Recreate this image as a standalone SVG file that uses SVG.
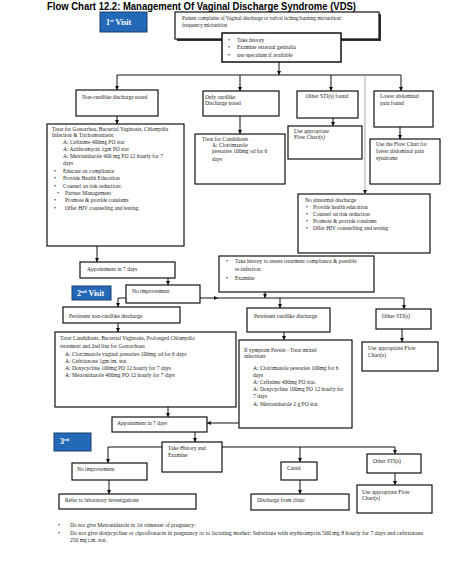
<svg xmlns="http://www.w3.org/2000/svg" width="474" height="577" viewBox="0 0 474 577">
<style>
.box{fill:#fff;stroke:#111;stroke-width:1.2}
.blue{fill:#2468b8;stroke:#1a3f70;stroke-width:1}
.t{font-family:"Liberation Serif",serif;font-size:5.5px;fill:#222}
.v{font-family:"Liberation Serif",serif;font-size:8px;font-weight:bold;fill:#fff}
.c{fill:none;stroke:#111;stroke-width:1}
.g{fill:none;stroke:#aaa;stroke-width:1}
</style>
<defs>
<marker id="ar" viewBox="0 0 6 6" refX="6" refY="3" markerWidth="4" markerHeight="4" markerUnits="userSpaceOnUse" orient="auto"><path d="M0,0 L6,3 L0,6 z" fill="#111"/></marker>
</defs>
<rect width="474" height="577" fill="#fff"/>
<text x="47" y="9.5" font-family="Liberation Sans,Arial,sans-serif" font-size="10.5" font-weight="bold" fill="#000" textLength="309" lengthAdjust="spacingAndGlyphs">Flow Chart 12.2: Management Of Vaginal Discharge Syndrome (VDS)</text>

<g id="connectors">
<path class="c" d="M279,39 V33" marker-end="url(#ar)"/>
<path class="c" d="M279,62 V75" marker-end="url(#ar)"/>
<path class="c" d="M117,75 H401"/>
<path class="c" d="M117,75 V90" marker-end="url(#ar)"/>
<path class="c" d="M240,75 V91" marker-end="url(#ar)"/>
<path class="c" d="M331,75 V91" marker-end="url(#ar)"/>
<path class="c" d="M401,75 V91" marker-end="url(#ar)"/>
<path class="g" d="M365,75 V194" marker-end="url(#ar)"/>
<path class="c" d="M117,116 V124" marker-end="url(#ar)"/>
<path class="c" d="M240,116 V134" marker-end="url(#ar)"/>
<path class="c" d="M333,118 V126" marker-end="url(#ar)"/>
<path class="c" d="M400,127 V139" marker-end="url(#ar)"/>
<path class="c" d="M97,246 V262" marker-end="url(#ar)"/>
<path class="c" d="M168,278 V285" marker-end="url(#ar)"/>
<path class="c" d="M126,298 H118 V307" marker-end="url(#ar)"/>
<path class="c" d="M200,298 H218" marker-end="url(#ar)"/>
<path class="c" d="M218,298 H404"/>
<path class="c" d="M265,292 V298" marker-end="url(#ar)"/>
<path class="c" d="M280,298 V308" marker-end="url(#ar)"/>
<path class="c" d="M404,298 V309" marker-end="url(#ar)"/>
<path class="c" d="M118,323 V332" marker-end="url(#ar)"/>
<path class="c" d="M284,332 V340" marker-end="url(#ar)"/>
<path class="c" d="M402,329 V342" marker-end="url(#ar)"/>
<path class="c" d="M168,407 V417" marker-end="url(#ar)"/>
<path class="c" d="M239,423 H207" marker-end="url(#ar)"/>
<path class="c" d="M195,432 V442" marker-end="url(#ar)"/>
<path class="c" d="M162,447 H108 V463" marker-end="url(#ar)"/>
<path class="c" d="M222,447 H395 V454" marker-end="url(#ar)"/>
<path class="c" d="M300,447 V462" marker-end="url(#ar)"/>
<path class="c" d="M109,480 V494" marker-end="url(#ar)"/>
<path class="c" d="M300,480 V494" marker-end="url(#ar)"/>
<path class="c" d="M395,473 V485" marker-end="url(#ar)"/>
</g>

<g id="visit1"><rect class="blue" x="100" y="12" width="47" height="20"/><text class="v" x="106" y="24.5">1<tspan font-size="5" dy="-3">st</tspan><tspan dy="3"> Visit</tspan></text></g>

<g id="patient"><rect x="177" y="14" width="204" height="27" fill="#333"/><rect class="box" x="175" y="12" width="204" height="27"/>
<text class="t" x="182" y="20" style="font-size:5.2px">Patient complains of Vaginal discharge or vulval itching/burning micturition/</text>
<text class="t" x="182" y="27" style="font-size:5.2px">frequency micturition</text></g>

<g id="takehistory"><rect class="box" x="222" y="33" width="119" height="29" style="stroke-width:1.5"/>
<text class="t" x="228" y="42">•</text><text class="t" x="237" y="42">Take history</text>
<text class="t" x="228" y="49">•</text><text class="t" x="237" y="49">Examine external genitalia</text>
<text class="t" x="228" y="57">•</text><text class="t" x="237" y="57">use speculum if available</text></g>

<g id="noncurd"><rect class="box" x="76" y="90" width="82" height="26"/><text class="t" x="82" y="99">Non-curdlike discharge noted</text></g>
<g id="curd"><rect class="box" x="203" y="91" width="76" height="25"/><text class="t" x="205" y="99">Only curdlike</text><text class="t" x="205" y="105">Discharge noted</text></g>
<g id="othersti1"><rect class="box" x="297" y="91" width="61" height="27"/><text class="t" x="306" y="98">Other STI(s) found</text></g>
<g id="lowerabd"><rect class="box" x="374" y="91" width="59" height="36"/><text class="t" x="380" y="98">Lower abdominal</text><text class="t" x="380" y="105">pain found</text></g>

<g id="treatgon"><rect class="box" x="47" y="124" width="137" height="122"/>
<text class="t" x="52" y="131">Treat for Gonorrhea, Bacterial Vaginosis, Chlamydia</text>
<text class="t" x="52" y="137">Infection &amp; Trichomoniasis:</text>
<text class="t" x="63" y="144">A: Cefixime 400mg PO stat</text>
<text class="t" x="63" y="151">A: Azithromycin 1gm PO stat</text>
<text class="t" x="63" y="158">A: Metronidazole 400 mg PO 12 hourly for 7</text>
<text class="t" x="63" y="165">days</text>
<text class="t" x="54" y="173">•</text><text class="t" x="63" y="173">Educate on compliance</text>
<text class="t" x="54" y="180">•</text><text class="t" x="63" y="180">Provide Health Education</text>
<text class="t" x="54" y="188">•</text><text class="t" x="63" y="188">Counsel on risk reduction:</text>
<text class="t" x="57" y="195">•</text><text class="t" x="65" y="195">Partner Management</text>
<text class="t" x="54" y="202">•</text><text class="t" x="65" y="202">Promote &amp; provide condoms</text>
<text class="t" x="54" y="210">•</text><text class="t" x="65" y="210">Offer HIV counseling and testing</text></g>

<g id="treatcand1"><rect class="box" x="195" y="134" width="90" height="50"/>
<text class="t" x="202" y="141">Treat for Candidiasis</text>
<text class="t" x="212" y="147">A: Clotrimazole</text>
<text class="t" x="212" y="153">pessaries 100mg od for 6</text>
<text class="t" x="212" y="161">days</text></g>

<g id="useflow1"><rect class="box" x="288" y="126" width="74" height="33"/><text class="t" x="294" y="133">Use appropriate</text><text class="t" x="294" y="139">Flow Chart(s)</text></g>
<g id="useflowlap"><rect class="box" x="370" y="139" width="70" height="45"/><text class="t" x="376" y="146">Use the Flow Chart for</text><text class="t" x="376" y="153">lower abdominal pain</text><text class="t" x="376" y="160">syndrome</text></g>

<g id="noabnormal"><rect class="box" x="298" y="194" width="132" height="59"/>
<text class="t" x="305" y="202">No abnormal discharge</text>
<text class="t" x="306" y="209">•</text><text class="t" x="313" y="209">Provide health education</text>
<text class="t" x="306" y="216">•</text><text class="t" x="313" y="216">Counsel on risk reduction</text>
<text class="t" x="306" y="223">•</text><text class="t" x="313" y="223">Promote &amp; provide condoms</text>
<text class="t" x="306" y="230">•</text><text class="t" x="313" y="230">Offer HIV counselling and testing</text></g>

<g id="appt1"><rect class="box" x="80" y="262" width="95" height="16"/><text class="t" x="87" y="271">Appointment in 7 days</text></g>

<g id="reassess"><rect class="box" x="219" y="256" width="155" height="36"/>
<text class="t" x="226" y="263">•</text><text class="t" x="235" y="263">Take history to assess treatment compliance &amp; possible</text>
<text class="t" x="235" y="271">re-infection</text>
<text class="t" x="226" y="280">•</text><text class="t" x="235" y="280">Examine</text></g>

<g id="visit2"><rect class="blue" x="72" y="286" width="39" height="14"/><text class="v" x="77" y="296">2<tspan font-size="5" dy="-3">nd</tspan><tspan dy="3"> Visit</tspan></text></g>
<g id="noimp1"><rect class="box" x="126" y="285" width="74" height="18"/><text class="t" x="132" y="293">No improvement</text></g>

<g id="persnon"><rect class="box" x="63" y="307" width="117" height="16"/><text class="t" x="69" y="318">Persistent non-curdlike discharge</text></g>
<g id="perscurd"><rect class="box" x="247" y="308" width="83" height="24"/><text class="t" x="254" y="318">Persistent curdlike discharge</text></g>
<g id="othersti2"><rect class="box" x="376" y="309" width="55" height="20"/><text class="t" x="382" y="318">Other STI(s)</text></g>

<g id="treatcand2"><rect class="box" x="55" y="332" width="181" height="75"/>
<text class="t" x="60" y="340">Treat Candidiasis, Bacterial Vaginosis, Prolonged Chlamydia</text>
<text class="t" x="60" y="348">treatment and 2nd line for Gonorrhoea</text>
<text class="t" x="65" y="356">A: Clotrimazole vaginal pessaries 100mg od for 6 days</text>
<text class="t" x="65" y="363">A: Ceftriaxone 1gm im. stat</text>
<text class="t" x="65" y="370">A: Doxycycline 100mg PO 12 hourly for 7 days</text>
<text class="t" x="65" y="377">A: Metronidazole 400mg PO 12 hourly for 7 days</text></g>

<g id="mixed"><rect class="box" x="239" y="340" width="113" height="88"/>
<text class="t" x="244" y="352">If symptom Persist - Treat mixed</text>
<text class="t" x="244" y="358">infections</text>
<text class="t" x="253" y="370">A: Clotrimazole pessaries 100mg for 6</text>
<text class="t" x="253" y="377">days</text>
<text class="t" x="253" y="384">A: Cefixime 400mg PO stat.</text>
<text class="t" x="253" y="391">A: Doxycycline 100mg PO 12 hourly for</text>
<text class="t" x="253" y="398">7 days</text>
<text class="t" x="253" y="406">A: Metronidazole 2 g PO stat</text></g>

<g id="useflow2"><rect class="box" x="362" y="342" width="76" height="29"/><text class="t" x="368" y="350">Use appropriate Flow</text><text class="t" x="368" y="357">Chart(s)</text></g>

<g id="appt2"><rect class="box" x="112" y="417" width="95" height="15"/><text class="t" x="117" y="425">Appointment in 7 days</text></g>
<g id="visit3"><rect class="blue" x="54" y="433" width="37" height="18"/><text class="v" x="60" y="444">3<tspan font-size="5" dy="-3">rd</tspan></text></g>
<g id="takehist3"><rect class="box" x="162" y="442" width="60" height="30"/><text class="t" x="168" y="450">Take History and</text><text class="t" x="168" y="457">Examine</text></g>

<g id="noimp2"><rect class="box" x="72" y="463" width="75" height="17"/><text class="t" x="77" y="471">No improvement</text></g>
<g id="refer"><rect class="box" x="59" y="494" width="137" height="15"/><text class="t" x="65" y="502">Refer to laboratory investigations</text></g>
<g id="cured"><rect class="box" x="281" y="462" width="36" height="18"/><text class="t" x="287" y="470">Cured</text></g>
<g id="discharge"><rect class="box" x="251" y="494" width="98" height="16"/><text class="t" x="257" y="502">Discharge from clinic</text></g>
<g id="othersti3"><rect class="box" x="367" y="454" width="54" height="19"/><text class="t" x="373" y="463">Other STI(s)</text></g>
<g id="useflow3"><rect class="box" x="357" y="485" width="75" height="28"/><text class="t" x="362" y="494">Use appropriate Flow</text><text class="t" x="362" y="500">Chart(s)</text></g>

<g id="notes">
<text class="t" x="58" y="527">•</text><text class="t" x="70" y="527">Do not give Metronidazole in 1st trimester of pregnancy:</text>
<text class="t" x="58" y="535">•</text><text class="t" x="70" y="535" textLength="353" lengthAdjust="spacingAndGlyphs">Do not give doxycycline or ciprofloxacin in pregnancy or to lactating mother: Substitute with erythromycin 500 mg 8 hourly for 7 days and ceftriaxone</text>
<text class="t" x="70" y="542">250 mg i.m. stat.</text>
</g>
</svg>
